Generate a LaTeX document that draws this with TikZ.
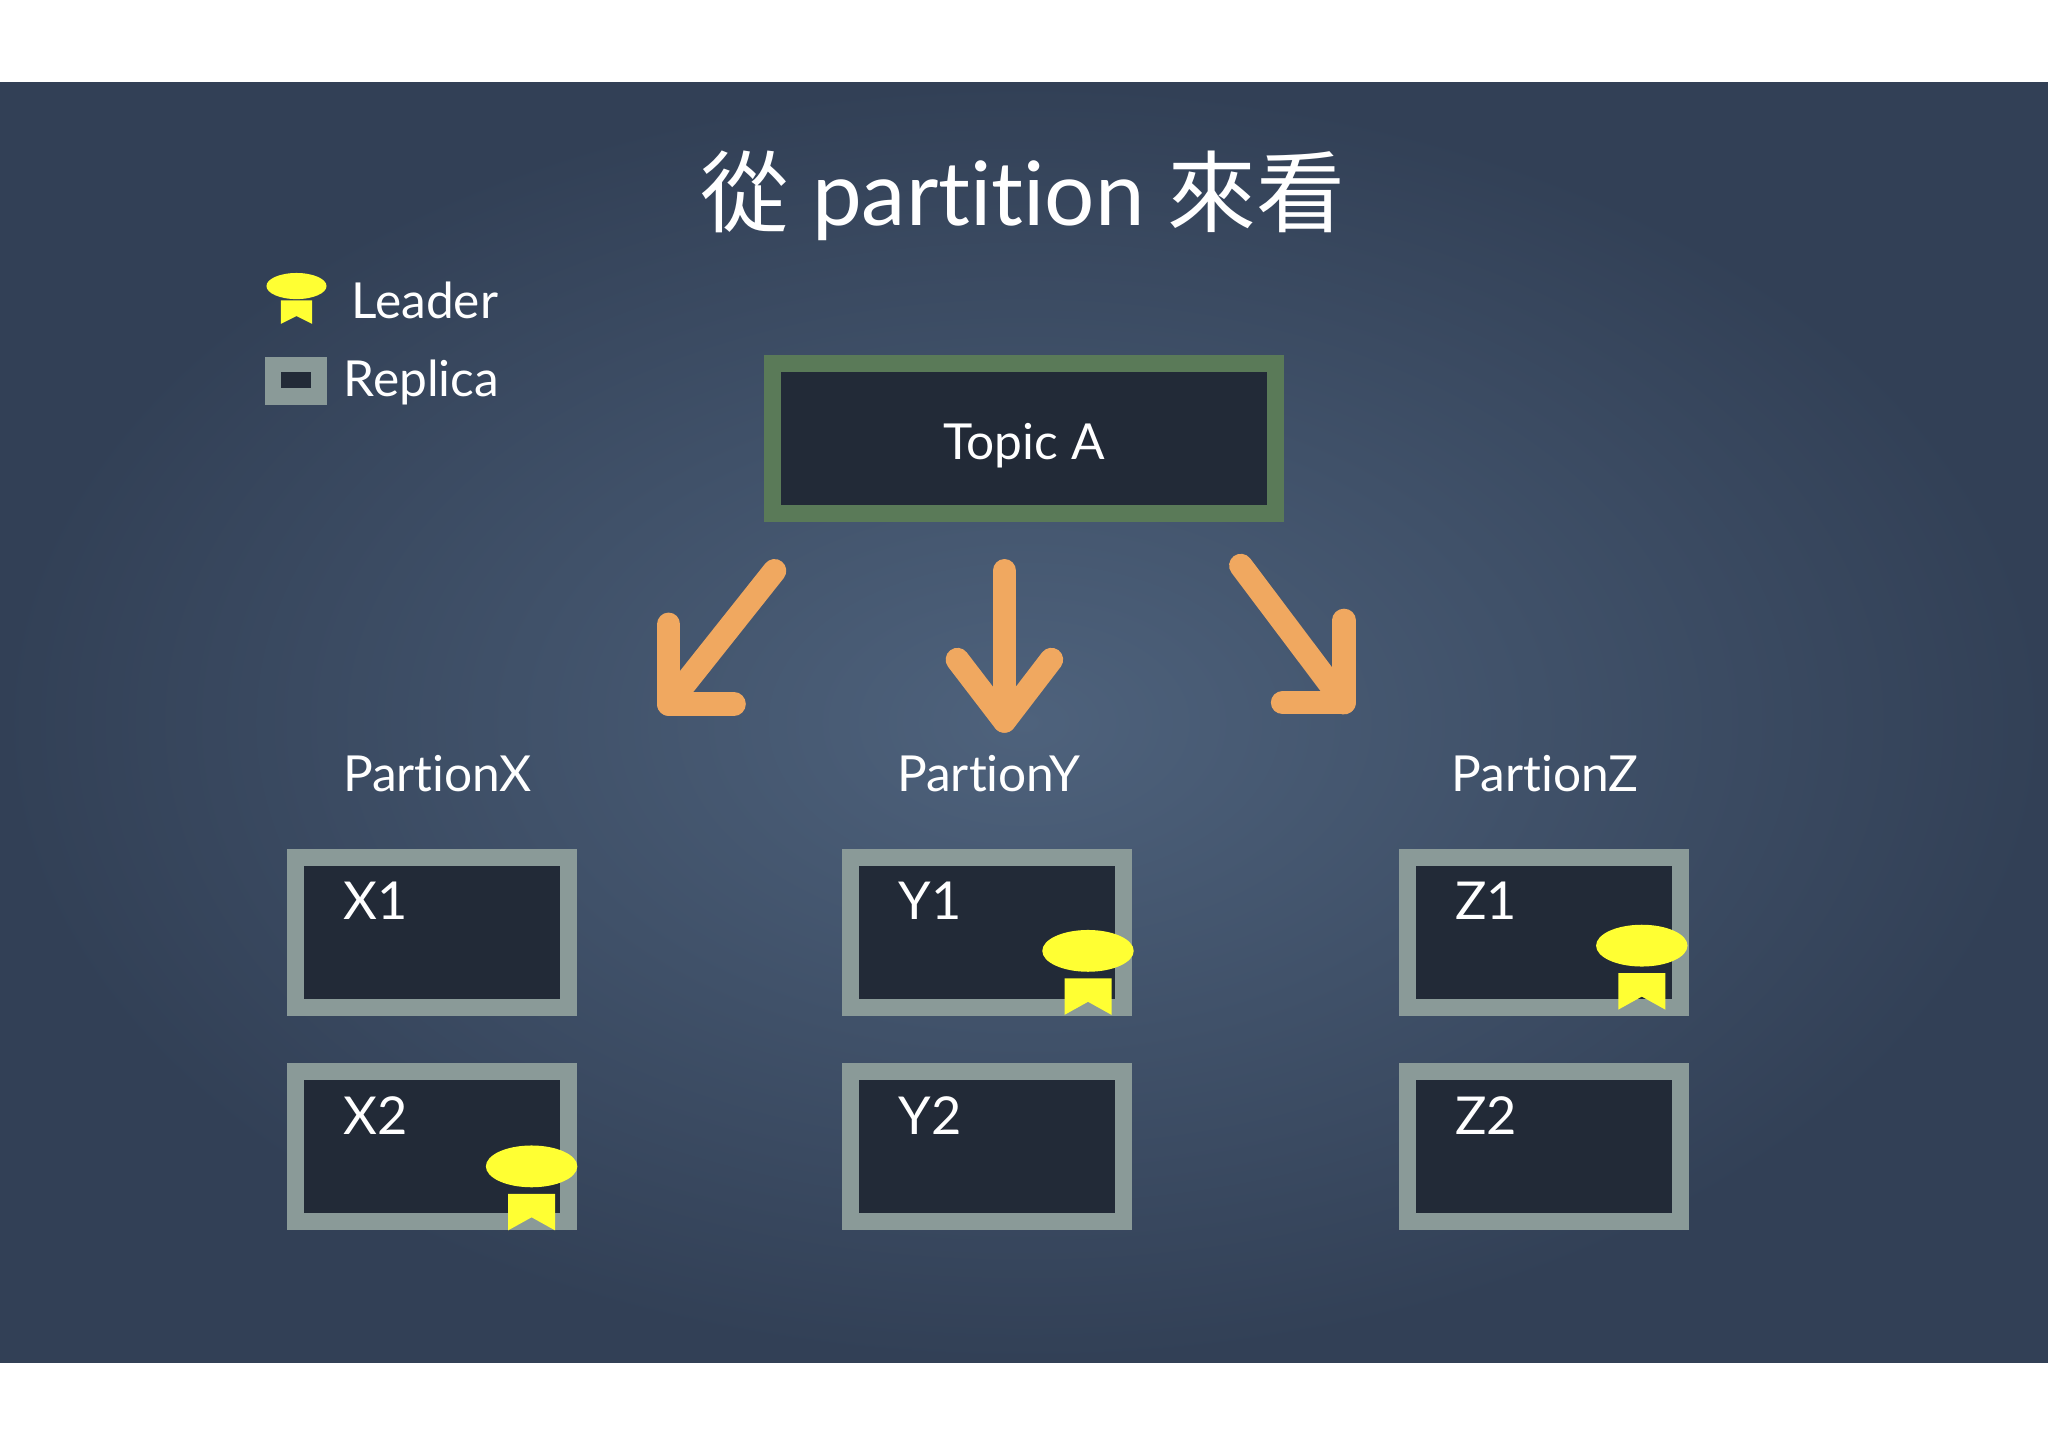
\documentclass[tikz,border=0pt]{standalone}
\usepackage{fontspec}
\setmainfont{Lato}[Ligatures=NoCommon]
\newfontfamily\cjk{Noto Sans CJK TC}
\begin{document}
\begin{tikzpicture}[x=0.5pt,y=-0.5pt,
  outbox/.style={draw=boxgray,line width=6.5pt,fill=boxfill,minimum width=209*0.5pt,minimum height=115*0.5pt,inner sep=0pt},
  boxlab/.style={text=white,font=\fontsize{20}{24}\selectfont,anchor=west},
  plab/.style={text=white,font=\fontsize{19}{23}\selectfont},
  arr/.style={draw=orangeA,line width=9pt,line cap=round,line join=round}]
\definecolor{boxgray}{HTML}{8A9A98}
\definecolor{boxfill}{HTML}{222A37}
\definecolor{greenB}{HTML}{5A7A58}
\definecolor{orangeA}{HTML}{F0A860}
\definecolor{leadY}{HTML}{FFFF33}
\useasboundingbox (0,0) rectangle (1568,1107);
\fill[white] (0,0) rectangle (1568,1107);
\shade[inner color={rgb,255:red,78;green,98;blue,124},outer color={rgb,255:red,50;green,64;blue,86}] (0,63) rectangle (1568,1043);
\node[text=white,font=\fontsize{34}{40}\selectfont] (title) at (783,150) {{\cjk 從} partition {\cjk 來看}};
% legend
\fill[leadY] (227,219) ellipse (23 and 10);
\fill[leadY] (215,230) -- (239,230) -- (239,248) -- (227,242) -- (215,248) -- cycle;
\node[plab,anchor=west] (leg1) at (262,230) {Leader};
\fill[boxgray] (203,273) rectangle (250,310);
\fill[boxfill] (215,285) rectangle (238,297);
\node[plab,anchor=west] (leg2) at (256,293) {Replica};
% topic
\node[draw=greenB,line width=6.5pt,fill=boxfill,minimum width=385*0.5pt,minimum height=115*0.5pt] (topic) at (784,336) {};
\node[text=white,font=\fontsize{19}{23}\selectfont] (topictxt) at (784,341) {Topic A};
% arrows
\coordinate (la) at (593,437); \coordinate (lb) at (512,539);
\draw[arr] (la) -- (lb); \draw[arr] (512,478) -- (lb) -- (562,539);
\coordinate (ma) at (769,437); \coordinate (mb) at (769,552);
\draw[arr] (ma) -- (mb); \draw[arr] (733,505) -- (mb) -- (805,505);
\coordinate (ra) at (950,433); \coordinate (rb) at (1029,538);
\draw[arr] (ra) -- (rb); \draw[arr] (982,538) -- (rb) -- (1029,475);
% partitions
\node[plab] (px) at (335,592) {PartionX};
\node[plab] (py) at (757,592) {PartionY};
\node[plab] (pz) at (1183,592) {PartionZ};
\foreach \n/\cx in {X/331,Y/756,Z/1182}{
  \node[outbox] (\n1) at (\cx,714) {};
  \node[outbox] (\n2) at (\cx,878) {};
  \node[boxlab] at ([xshift=18,yshift=-20]\n1.north west) {\n1};
  \node[boxlab] at ([xshift=18,yshift=-20]\n2.north west) {\n2};
}
\foreach \ex/\ey in {833/728,407/893,1257/724}{
  \fill[leadY] (\ex,\ey) ellipse (35 and 16);
  \fill[leadY] (\ex-18,\ey+21) -- (\ex+18,\ey+21) -- (\ex+18,\ey+49) -- (\ex,\ey+39) -- (\ex-18,\ey+49) -- cycle;
}
\end{tikzpicture}
\end{document}
